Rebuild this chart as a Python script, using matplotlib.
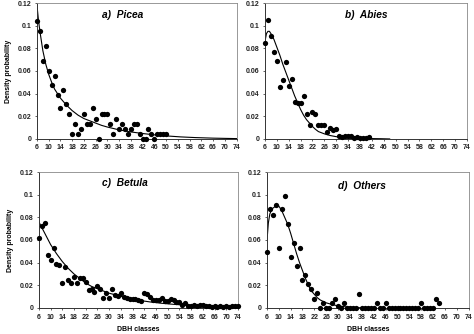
import numpy as np
import matplotlib.pyplot as plt

plt.rcParams['font.family'] = ['Liberation Sans', 'DejaVu Sans']

# observed DBH class frequencies (points) and fitted density (line)
picea_x = list(range(6, 51))
picea_y = [0.104, 0.095, 0.069, 0.082, 0.060, 0.048, 0.056, 0.039, 0.027, 0.043,
           0.031, 0.022, 0.004, 0.013, 0.004, 0.009, 0.022, 0.013, 0.013, 0.027,
           0.018, 0.000, 0.022, 0.022, 0.022, 0.013, 0.004, 0.018, 0.009, 0.013,
           0.009, 0.004, 0.009, 0.013, 0.013, 0.004, 0.000, 0.000, 0.009, 0.004,
           0.000, 0.004, 0.004, 0.004, 0.004]
picea_fit_x = [6, 6.5, 7, 8, 9, 10, 11, 12, 13, 14, 16, 18, 20, 22, 24, 26, 28, 30,
               34, 38, 42, 46, 50, 55, 60, 66, 74]
picea_fit_y = [0.118, 0.105, 0.095, 0.078, 0.066, 0.057, 0.050, 0.044, 0.040, 0.036,
               0.030, 0.025, 0.021, 0.018, 0.016, 0.014, 0.012, 0.0105, 0.008, 0.0062,
               0.0048, 0.0036, 0.0027, 0.0018, 0.0012, 0.0007, 0.0003]

abies_x = list(range(6, 42))
abies_y = [0.085, 0.105, 0.091, 0.077, 0.069, 0.046, 0.052, 0.068, 0.047, 0.053,
           0.033, 0.032, 0.032, 0.038, 0.022, 0.012, 0.024, 0.022, 0.012, 0.012,
           0.012, 0.006, 0.010, 0.0075, 0.009, 0.003, 0.002, 0.003, 0.003, 0.0025,
           0.001, 0.002, 0.001, 0.0005, 0.001, 0.002]
abies_fit_x = [6, 6.5, 7, 7.5, 8, 9, 10, 11, 12, 13, 14, 15, 16, 17, 18, 19, 20, 21,
               22, 23, 24, 26, 28, 30, 33, 36, 40, 45, 48]
abies_fit_y = [0.086, 0.093, 0.095, 0.095, 0.093, 0.088, 0.081, 0.074, 0.066, 0.059,
               0.052, 0.045, 0.038, 0.032, 0.026, 0.021, 0.017, 0.014, 0.011, 0.0085,
               0.0065, 0.0045, 0.003, 0.002, 0.0012, 0.0008, 0.0004, 0.0002, 0.0]

betula_x = list(range(6, 75))
betula_y = [0.062, 0.072, 0.075, 0.047, 0.042, 0.053, 0.039, 0.038, 0.022, 0.036,
            0.025, 0.022, 0.027, 0.022, 0.026, 0.026, 0.023, 0.016, 0.017, 0.014,
            0.019, 0.017, 0.0085, 0.013, 0.0085, 0.017, 0.0115, 0.0106, 0.013, 0.0094,
            0.0085, 0.008, 0.008, 0.008, 0.007, 0.006, 0.013, 0.012, 0.010, 0.007,
            0.007, 0.007, 0.009, 0.006, 0.006, 0.008, 0.007, 0.005, 0.005, 0.003,
            0.004, 0.002, 0.002, 0.003, 0.002, 0.003, 0.003, 0.002, 0.002, 0.001,
            0.002, 0.001, 0.002, 0.001, 0.002, 0.001, 0.002, 0.002, 0.002]
betula_fit_x = [6, 7, 8, 9, 10, 11, 12, 14, 16, 18, 20, 22, 24, 26, 28, 30, 33, 36,
                40, 44, 48, 52, 56, 60, 65, 70, 74]
betula_fit_y = [0.076, 0.071, 0.066, 0.061, 0.056, 0.052, 0.048, 0.041, 0.035, 0.030,
                0.026, 0.022, 0.019, 0.017, 0.015, 0.013, 0.011, 0.0088, 0.0068, 0.0053,
                0.0041, 0.0032, 0.0025, 0.0019, 0.0014, 0.0010, 0.0008]

others_x = list(range(6, 33)) + list(range(33, 63)) + [63, 64]
others_y = ([0.049, 0.087, 0.082, 0.091, 0.053, 0.087, 0.099, 0.074, 0.045, 0.057,
             0.037, 0.053, 0.025, 0.029, 0.021, 0.017, 0.008, 0.013, 0.000, 0.004,
             0.000, 0.000, 0.004, 0.008, 0.002, 0.000, 0.004]
            + [0.0, 0.0, 0.0, 0.0, 0.0125, 0.0, 0.0, 0.0, 0.0, 0.0,
               0.004, 0.0, 0.0, 0.004, 0.0, 0.0, 0.0, 0.0, 0.0, 0.0,
               0.0, 0.0, 0.0, 0.0, 0.0, 0.004, 0.0, 0.0, 0.0, 0.0]
            + [0.008, 0.004])
others_fit_x = [6, 6.5, 7, 7.5, 8, 9, 10, 11, 12, 13, 14, 15, 16, 17, 18, 19, 20, 21,
                22, 23, 24, 26, 28, 30, 33, 36, 40]
others_fit_y = [0.058, 0.075, 0.083, 0.086, 0.088, 0.090, 0.090, 0.086, 0.080, 0.074,
                0.066, 0.057, 0.048, 0.040, 0.033, 0.026, 0.020, 0.015, 0.012, 0.009,
                0.007, 0.0045, 0.003, 0.0018, 0.0008, 0.0003, 0.0]

panels = [
    ("a)  Picea", picea_x, picea_y, picea_fit_x, picea_fit_y),
    ("b)  Abies", abies_x, abies_y, abies_fit_x, abies_fit_y),
    ("c)  Betula", betula_x, betula_y, betula_fit_x, betula_fit_y),
    ("d)  Others", others_x, others_y, others_fit_x, others_fit_y),
]

# axes rectangles [left, bottom, width, height] in figure fraction
rects = [
    [0.078, 0.584, 0.421, 0.407],
    [0.559, 0.584, 0.426, 0.407],
    [0.082, 0.078, 0.420, 0.407],
    [0.563, 0.078, 0.426, 0.407],
]
title_pos = [(0.43, 0.91), (0.50, 0.91), (0.43, 0.92), (0.47, 0.90)]

xticks = list(range(6, 75, 4))
yticks = [0, 0.02, 0.04, 0.06, 0.08, 0.1, 0.12]
ytick_labels = ["0", "0.02", "0.04", "0.06", "0.08", "0.1", "0.12"]

fig = plt.figure(figsize=(4.74, 3.34), dpi=100)

for k, (name, x, y, fx, fy) in enumerate(panels):
    ax = fig.add_axes(rects[k])
    ax.plot(fx, fy, color='black', lw=0.8, zorder=2)
    ax.plot(x, y, 'o', color='black', ms=3.8, mew=0, zorder=3, clip_on=False)
    ax.set_xlim(6, 74)
    ax.set_ylim(0, 0.12)
    ax.set_xticks(xticks)
    ax.set_xticklabels([str(t) for t in xticks], fontsize=5, fontweight='bold')
    ax.set_yticks(yticks)
    ax.set_yticklabels(ytick_labels, fontsize=5, fontweight='bold')
    ax.tick_params(length=1.5, width=0.5, pad=2.5, colors='#222222')
    for side in ['top', 'right']:
        ax.spines[side].set_color('#888888')
        ax.spines[side].set_linewidth(0.6)
    for side in ['left', 'bottom']:
        ax.spines[side].set_color('#333333')
        ax.spines[side].set_linewidth(0.7)
    tx, ty = title_pos[k]
    ax.text(tx, ty, name, transform=ax.transAxes, ha='center', va='center',
            fontsize=7.3, fontweight='bold', fontstyle='italic')
    if k in (0, 2):
        ax.set_ylabel("Density probability", fontsize=5, fontweight='bold',
                      labelpad=4)
    if k in (2, 3):
        ax.set_xlabel("DBH classes", fontsize=5, fontweight='bold', labelpad=4)

fig.savefig("out.png", dpi=100)
